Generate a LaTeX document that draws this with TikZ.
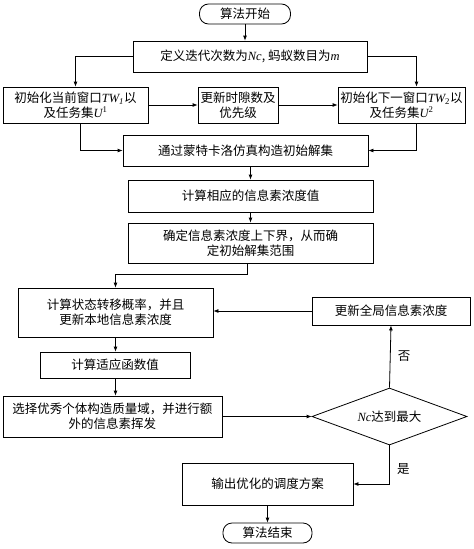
\documentclass[tikz,border=0pt]{standalone}
\usepackage{fontspec}
\setmainfont{Noto Sans CJK SC}
\newfontfamily\tnr{Liberation Serif}
\newcommand{\vi}[1]{{\tnr\itshape #1}}
\usetikzlibrary{shapes.geometric, arrows.meta, positioning, calc}

\begin{document}
\begin{tikzpicture}[x=1pt, y=-1pt,
  proc/.style={draw, line width=0.8pt, align=center, font=\fontsize{12.5}{15}\selectfont, inner sep=1pt},
  term/.style={draw, line width=0.8pt, rounded corners=9pt, font=\fontsize{12.5}{15}\selectfont, minimum height=20pt},
  decide/.style={draw, diamond, line width=0.8pt, aspect=2.7, inner sep=0pt, font=\fontsize{12.5}{15}\selectfont, minimum width=155pt, minimum height=57pt},
  flow/.style={-{Latex[length=5pt, width=4pt]}, line width=0.8pt},
  tag/.style={font=\fontsize{12.5}{15}\selectfont}
]
\useasboundingbox (0,0) rectangle (474,549);

% Start and set-up
\node[term, minimum width=91pt] (start) at (245,14) {算法开始};
\node[proc, minimum width=234pt, minimum height=31pt] (define) at (250,56.5) {定义迭代次数为\vi{Nc}, 蚂蚁数目为\vi{m}};

\node[proc, minimum width=145pt, minimum height=36pt] (curwin) at (75.5,105) {初始化当前窗口\vi{TW}\textsubscript{\vi{1}}以\\及任务集\vi{U}\textsuperscript{\tnr 1}};
\node[proc, minimum width=80pt, minimum height=36pt] (slot) at (238,105) {更新时隙数及\\优先级};
\node[proc, minimum width=127pt, minimum height=36pt] (nextwin) at (401.5,105) {初始化下一窗口\vi{TW}\textsubscript{\tnr 2}以\\及任务集\vi{U}\textsuperscript{\tnr 2}};

% Initial solution
\node[proc, minimum width=245pt, minimum height=31pt] (monte) at (245.5,150.5) {通过蒙特卡洛仿真构造初始解集};
\node[proc, minimum width=245pt, minimum height=32pt] (phero) at (250.5,196) {计算相应的信息素浓度值};
\node[proc, minimum width=245pt, minimum height=40pt] (bound) at (250.5,243) {确定信息素浓度上下界，从而确\\定初始解集范围};

% Main loop
\node[proc, minimum width=195pt, minimum height=49pt] (prob) at (115.5,312.5) {计算状态转移概率，并且\\更新本地信息素浓度};
\node[proc, minimum width=150pt, minimum height=26pt] (fitness) at (115,365) {计算适应函数值};
\node[proc, minimum width=219pt, minimum height=41pt] (select) at (112.5,416.5) {选择优秀个体构造质量域，并进行额\\外的信息素挥发};
\node[proc, minimum width=158pt, minimum height=28pt] (globup) at (391,311) {更新全局信息素浓度};
\node[decide] (maxnc) at (389.5,416.5) {\vi{Nc}达到最大};

% Output
\node[proc, minimum width=171pt, minimum height=42pt] (output) at (267.5,484) {输出优化的调度方案};
\node[term, minimum width=89pt] (finish) at (267.5,533) {算法结束};

% Connectors
\draw[flow] (start) -- (start |- define.north);
\draw[flow] (define.west) -| (curwin.north);
\draw[flow] (define.east) -| ([xshift=15pt]nextwin.north);
\draw[flow] (curwin) -- (slot);
\draw[flow] (slot) -- (nextwin);
\draw[flow] ([xshift=5pt]curwin.south) |- (monte.west);
\draw[flow] ([xshift=15pt]nextwin.south) |- (monte.east);
\draw[flow] (phero.north |- monte.south) -- (phero.north);
\draw[flow] (phero.south) -- (bound.north);
\draw[flow] ([xshift=-3pt]bound.south) -- ++(0,11) -| (prob.north);
\draw[flow] (prob.south) -- (prob.south |- fitness.north);
\draw[flow] (prob.south |- fitness.south) -- (prob.south |- select.north);
\draw[flow] (select.east) -- (maxnc.west);
\draw[flow] (maxnc.north) -- node[tag, right=4pt] {否} (globup.south);
\draw[flow] (globup.west) -- (prob.east |- globup.west);
\draw[flow] (maxnc.south) |- node[tag, pos=0.3, right=4pt] {是} (output.east);
\draw[flow] (output.south) -- (finish.north);

\end{tikzpicture}
\end{document}
